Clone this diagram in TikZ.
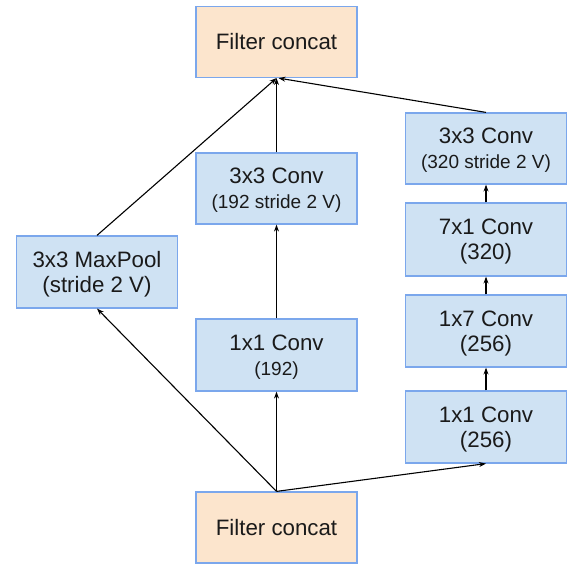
\documentclass[tikz,border=0pt]{standalone}
\usepackage{fontspec}
\setmainfont{Liberation Sans}
\usetikzlibrary{arrows.meta}
\definecolor{bluefill}{HTML}{CFE2F3}
\definecolor{orangefill}{HTML}{FCE5CD}
\definecolor{boxline}{HTML}{7BA7EC}
\definecolor{txt}{HTML}{1A1A1A}
\newcommand{\subline}[1]{{\fontsize{19}{25}\selectfont #1}}
\tikzset{
  layer/.style={draw=boxline, line width=1.2pt, fill=bluefill, text=txt,
    minimum width=161pt, minimum height=71pt, align=center, inner sep=0pt,
    font=\fontsize{22.3}{25}\selectfont},
  twoline/.style={text depth=-1pt},
  concat/.style={layer, fill=orangefill},
  flow/.style={line width=1.1pt, -{Stealth[length=7pt,width=5pt]}}
}
\begin{document}
\begin{tikzpicture}[x=1pt,y=-1pt]
\useasboundingbox (0,0) rectangle (582,572);
\node[concat] (topc) at (276.5,42) {Filter concat};
\node[layer, twoline] (c192b) at (276.5,188.5) {3x3 Conv\\\subline{(192 stride 2 V)}};
\node[layer, twoline] (c320) at (486,148.5) {3x3 Conv\\\subline{(320 stride 2 V)}};
\node[layer, twoline, minimum height=72pt] (mp) at (97,272) {3x3 MaxPool\\(stride 2 V)};
\node[layer, twoline, minimum height=72pt] (c192a) at (276.5,355) {1x1 Conv\\\subline{(192)}};
\node[layer, twoline, minimum height=73pt] (c7x1) at (486,239.5) {7x1 Conv\\(320)};
\node[layer, twoline, minimum height=72pt] (c1x7) at (486,331) {1x7 Conv\\(256)};
\node[layer, twoline, minimum height=72pt] (c256) at (486,427) {1x1 Conv\\(256)};
\node[concat] (botc) at (276.5,527.5) {Filter concat};

\draw[flow] (mp.north) -- (topc.south);
\draw[flow] (c192b.north) -- (topc.south);
\draw[flow] (c320.north) -- ([xshift=2pt]topc.south);
\draw[flow] (c192a.north) -- (c192b.south);
\draw[flow] (c256.north) -- (c1x7.south);
\draw[flow] (c1x7.north) -- (c7x1.south);
\draw[flow] (c7x1.north) -- (c320.south);
\draw[flow] (botc.north) -- (mp.south);
\draw[flow] (botc.north) -- (c192a.south);
\draw[flow] (botc.north) -- (c256.south);
\end{tikzpicture}
\end{document}
